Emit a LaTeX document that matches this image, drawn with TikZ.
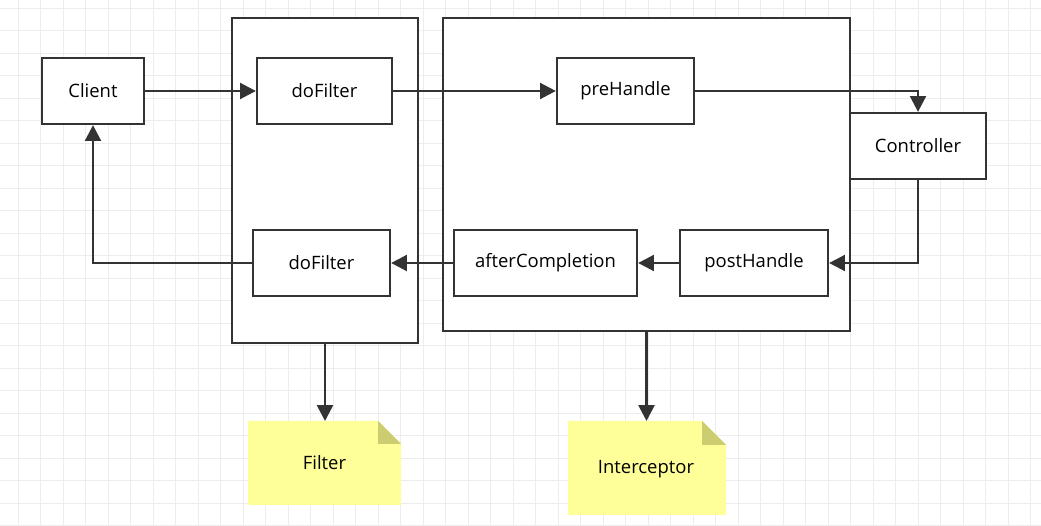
\documentclass[tikz,border=0pt]{standalone}
\usepackage{fontspec}
\setmainfont{Open Sans}
\usetikzlibrary{arrows.meta}
\definecolor{notey}{HTML}{FFFF99}
\definecolor{notef}{HTML}{CCCC70}
\tikzset{
    box/.style={draw=black!80, line width=1.3pt, fill=white, inner sep=0pt, font=\fontsize{10.5}{12}\selectfont},
    flow/.style={draw=black!80, line width=1.5pt, -{Triangle[length=9pt,width=9pt]}},
}
\begin{document}
\begin{tikzpicture}[x=0.02cm, y=-0.02cm]
    \useasboundingbox (0,0) rectangle (1041,526);
    \fill[white] (0,0) rectangle (1041,526);
    \foreach \x in {18, 40.5, ..., 1041} {
        \draw[black!7] (\x,0) -- (\x,526);
    }
    \foreach \y in {8, 30.5, ..., 526} {
        \draw[black!7] (0,\y) -- (1041,\y);
    }
    % containers
    \node[box, minimum width=3.72cm, minimum height=6.5cm] (filterbox) at (325,180.5) {};
    \node[box, minimum width=8.14cm, minimum height=6.26cm] (interbox) at (646.5,174.5) {};
    % steps
    \node[box, minimum width=2.04cm, minimum height=1.32cm] (client) at (93,91) {Client};
    \node[box, minimum width=2.7cm, minimum height=1.32cm] (dofilterA) at (324.5,91) {doFilter};
    \node[box, minimum width=2.74cm, minimum height=1.32cm] (prehandle) at (625.5,91) {preHandle};
    \node[box, minimum width=2.72cm, minimum height=1.32cm] (controller) at (918,146) {Controller};
    \node[box, minimum width=2.96cm, minimum height=1.32cm] (posthandle) at (754,263) {postHandle};
    \node[box, minimum width=3.66cm, minimum height=1.32cm] (aftercompl) at (545.5,263) {afterCompletion};
    \node[box, minimum width=2.74cm, minimum height=1.32cm] (dofilterB) at (321.5,263) {doFilter};
    % notes
    \fill[notey] (248,421) -- (378,421) -- (401,444) -- (401,505) -- (248,505) -- cycle;
    \fill[notef] (378,421) -- (401,444) -- (378,444) -- cycle;
    \node[font=\fontsize{10.5}{12}\selectfont] (filternote) at (324.5,463) {Filter};
    \coordinate (filtertop) at (325,421);
    \fill[notey] (568,421) -- (702,421) -- (726,445) -- (726,515) -- (568,515) -- cycle;
    \fill[notef] (702,421) -- (726,445) -- (702,445) -- cycle;
    \node[font=\fontsize{10.5}{12}\selectfont] (internote) at (646,469) {Interceptor};
    \coordinate (intertop) at (646.5,421);
    % connectors
    \draw[flow] (client) -- (dofilterA);
    \draw[flow] (dofilterA) -- (prehandle);
    \draw[flow] (prehandle) -| (controller);
    \draw[flow] (controller) |- (posthandle);
    \draw[flow] (posthandle) -- (aftercompl);
    \draw[flow] (aftercompl) -- (dofilterB);
    \draw[flow] (dofilterB) -| (client);
    \draw[flow] (filterbox.south) -- (filtertop);
    \draw[flow] (interbox.south) -- (intertop);
\end{tikzpicture}
\end{document}
